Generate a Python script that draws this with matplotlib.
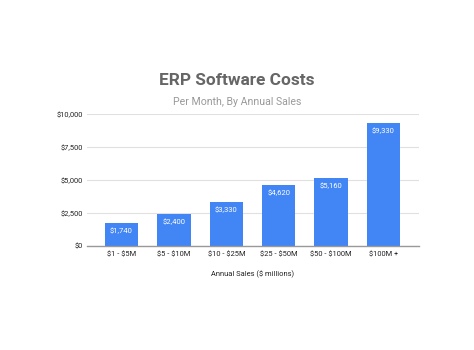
import numpy as np
import matplotlib.pyplot as plt

# datos del gráfico
categorias = ['$1 - $5M', '$5 - $10M', '$10 - $25M', '$25 - $50M', '$50 - $100M', '$100M +']
costos = [1740, 2400, 3330, 4620, 5160, 9330]
ticks_y = [0, 2500, 5000, 7500, 10000]
etiquetas_y = ['$0', '$2,500', '$5,000', '$7,500', '$10,000']

plt.rcParams['font.family'] = ['Roboto', 'DejaVu Sans']

fig = plt.figure(figsize=(4.74, 3.5), dpi=100)
ax = fig.add_axes([0.1835, 0.297, 0.7005, 0.376])

x = np.arange(len(categorias))
ax.bar(x, costos, width=0.64, color='#4285F4', zorder=3)

# etiquetas dentro de cada barra (escapamos el $ para que no lo tome como mathtext)
for xi, v in zip(x, costos):
    ax.text(xi, v - 585, f'\\${v:,}', ha='center', va='center', color='white',
            fontsize=5.5, zorder=4)

ax.set_xlim(-0.66, 5.68)
ax.set_ylim(0, 10000)
ax.set_yticks(ticks_y)
ax.set_yticklabels([e.replace('$', '\\$') for e in etiquetas_y])
ax.set_xticks(x)
ax.set_xticklabels([c.replace('$', '\\$') for c in categorias])
ax.tick_params(axis='both', length=0, labelsize=5.4, labelcolor='#222222')
ax.tick_params(axis='x', pad=3.5)
ax.tick_params(axis='y', pad=3)

ax.grid(axis='y', color='#e0e0e0', linewidth=0.8, zorder=0)
for lado in ['top', 'right', 'left']:
    ax.spines[lado].set_visible(False)
ax.spines['bottom'].set_color('#999999')
ax.spines['bottom'].set_linewidth(1)
ax.spines['bottom'].set_zorder(5)

ax.set_xlabel('Annual Sales (\\$ millions)', fontsize=5.4, color='#222222', labelpad=9)

fig.text(0.5, 0.77, 'ERP Software Costs', ha='center', va='center',
         fontsize=12.4, fontweight='bold', color='#666666')
fig.text(0.5, 0.709, 'Per Month, By Annual Sales', ha='center', va='center',
         fontsize=7.6, color='#999999')

fig.savefig('out.png', dpi=100)
